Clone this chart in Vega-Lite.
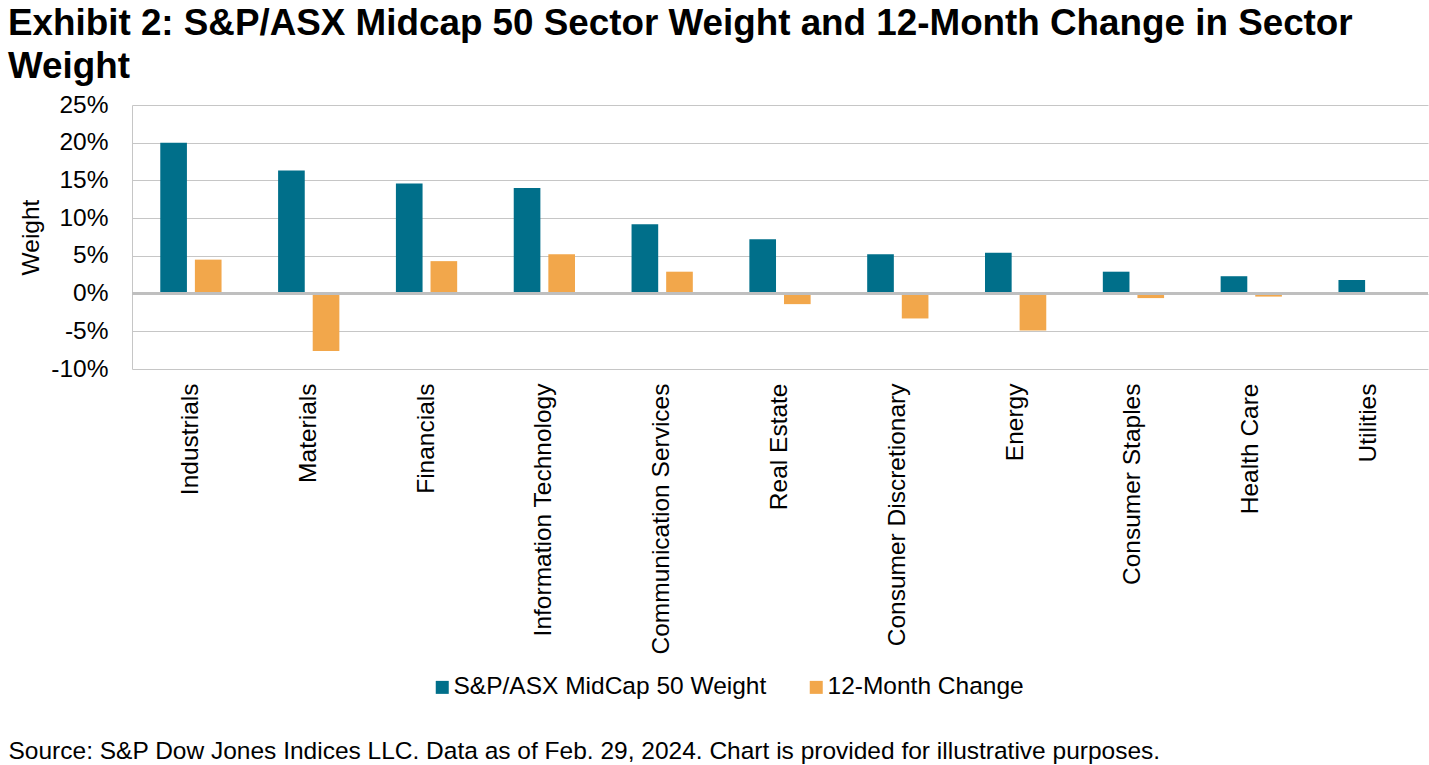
{
  "$schema": "https://vega.github.io/schema/vega-lite/v6.json",
  "width": 1296,
  "height": 264,
  "autosize": {"type": "none"},
  "padding": {"left": 132, "top": 105, "right": 1, "bottom": 396},
  "background": "white",
  "config": {"font": "Liberation Sans", "view": {"stroke": null}},
  "title": {
    "text": ["Exhibit 2: S&P/ASX Midcap 50 Sector Weight and 12-Month Change in Sector", "Weight"],
    "anchor": "start",
    "frame": "group",
    "dx": -124,
    "offset": 6,
    "fontSize": 36.8,
    "fontWeight": "bold",
    "color": "#000000",
    "lineHeight": 43
  },
  "data": {
    "values": [
      {"sector": "Industrials", "series": "S&P/ASX MidCap 50 Weight", "value": 20.0},
      {"sector": "Industrials", "series": "12-Month Change", "value": 4.5},
      {"sector": "Materials", "series": "S&P/ASX MidCap 50 Weight", "value": 16.3},
      {"sector": "Materials", "series": "12-Month Change", "value": -7.6},
      {"sector": "Financials", "series": "S&P/ASX MidCap 50 Weight", "value": 14.6},
      {"sector": "Financials", "series": "12-Month Change", "value": 4.3},
      {"sector": "Information Technology", "series": "S&P/ASX MidCap 50 Weight", "value": 14.0},
      {"sector": "Information Technology", "series": "12-Month Change", "value": 5.2},
      {"sector": "Communication Services", "series": "S&P/ASX MidCap 50 Weight", "value": 9.2},
      {"sector": "Communication Services", "series": "12-Month Change", "value": 2.9},
      {"sector": "Real Estate", "series": "S&P/ASX MidCap 50 Weight", "value": 7.2},
      {"sector": "Real Estate", "series": "12-Month Change", "value": -1.4},
      {"sector": "Consumer Discretionary", "series": "S&P/ASX MidCap 50 Weight", "value": 5.2},
      {"sector": "Consumer Discretionary", "series": "12-Month Change", "value": -3.3},
      {"sector": "Energy", "series": "S&P/ASX MidCap 50 Weight", "value": 5.4},
      {"sector": "Energy", "series": "12-Month Change", "value": -4.9},
      {"sector": "Consumer Staples", "series": "S&P/ASX MidCap 50 Weight", "value": 2.9},
      {"sector": "Consumer Staples", "series": "12-Month Change", "value": -0.6},
      {"sector": "Health Care", "series": "S&P/ASX MidCap 50 Weight", "value": 2.3},
      {"sector": "Health Care", "series": "12-Month Change", "value": -0.4},
      {"sector": "Utilities", "series": "S&P/ASX MidCap 50 Weight", "value": 1.8},
      {"sector": "Utilities", "series": "12-Month Change", "value": 0.2}
    ]
  },
  "layer": [
    {
      "mark": {"type": "bar"},
      "encoding": {
        "x": {
          "field": "sector",
          "type": "nominal",
          "sort": null,
          "scale": {"paddingInner": 0.48, "paddingOuter": 0.24},
          "axis": {
            "labelAngle": -90,
            "labelAlign": "right",
            "labelBaseline": "middle",
            "labelFontSize": 24.5,
            "labelColor": "#000000",
            "labelPadding": 14,
            "labelLimit": 0,
            "labelOverlap": false,
            "ticks": false,
            "domain": false,
            "grid": false,
            "title": "Source: S&P Dow Jones Indices LLC. Data as of Feb. 29, 2024. Chart is provided for illustrative purposes.",
            "titleFontSize": 24.5,
            "titleFontWeight": "normal",
            "titleColor": "#000000",
            "titleAnchor": null,
            "titleAlign": "left",
            "titleBaseline": "alphabetic",
            "titleLimit": 0,
            "titleX": -124,
            "titleY": 389
          }
        },
        "xOffset": {
          "field": "series",
          "type": "nominal",
          "sort": ["S&P/ASX MidCap 50 Weight", "12-Month Change"],
          "scale": {"paddingInner": 0.23, "paddingOuter": 0}
        },
        "y": {
          "field": "value",
          "type": "quantitative",
          "scale": {"domain": [-10, 25], "nice": false, "zero": false},
          "axis": {
            "values": [-10, -5, 0, 5, 10, 15, 20, 25],
            "tickCount": 12,
            "labelExpr": "datum.value + '%'",
            "labelFontSize": 24.5,
            "labelColor": "#000000",
            "labelPadding": 24,
            "labelOverlap": false,
            "labelFlush": false,
            "labelBound": false,
            "ticks": false,
            "domain": true,
            "domainColor": "#c6c6c6",
            "domainWidth": 1,
            "grid": true,
            "gridColor": "#c6c6c6",
            "gridWidth": 1,
            "title": "Weight",
            "titleFontSize": 24.5,
            "titleFontWeight": "normal",
            "titleColor": "#000000",
            "titleAngle": -90,
            "titleBaseline": "middle",
            "titleAlign": "center",
            "titleX": -101,
            "titleY": 132
          }
        },
        "color": {
          "field": "series",
          "type": "nominal",
          "scale": {
            "domain": ["S&P/ASX MidCap 50 Weight", "12-Month Change"],
            "range": ["#006f8a", "#f2a74b"]
          },
          "legend": {
            "orient": "none",
            "direction": "horizontal",
            "legendX": 298,
            "legendY": 570,
            "title": null,
            "symbolType": "square",
            "symbolSize": 169,
            "symbolStrokeWidth": 0,
            "labelFontSize": 24.5,
            "labelColor": "#000000",
            "labelOffset": -1,
            "labelLimit": 0,
            "columnPadding": 37
          }
        }
      }
    },
    {
      "mark": {"type": "rule", "color": "#bfbfbf", "strokeWidth": 2.5},
      "encoding": {
        "y": {
          "datum": 0,
          "type": "quantitative",
          "axis": {
            "values": [-10, -5, 0, 5, 10, 15, 20, 25],
            "tickCount": 12,
            "labelExpr": "datum.value + '%'",
            "labelFontSize": 24.5,
            "labelColor": "#000000",
            "labelPadding": 24,
            "labelOverlap": false,
            "labelFlush": false,
            "labelBound": false,
            "ticks": false,
            "domain": true,
            "domainColor": "#c6c6c6",
            "domainWidth": 1,
            "grid": true,
            "gridColor": "#c6c6c6",
            "gridWidth": 1,
            "title": "Weight",
            "titleFontSize": 24.5,
            "titleFontWeight": "normal",
            "titleColor": "#000000",
            "titleAngle": -90,
            "titleBaseline": "middle",
            "titleAlign": "center",
            "titleX": -101,
            "titleY": 132
          }
        }
      }
    }
  ]
}
